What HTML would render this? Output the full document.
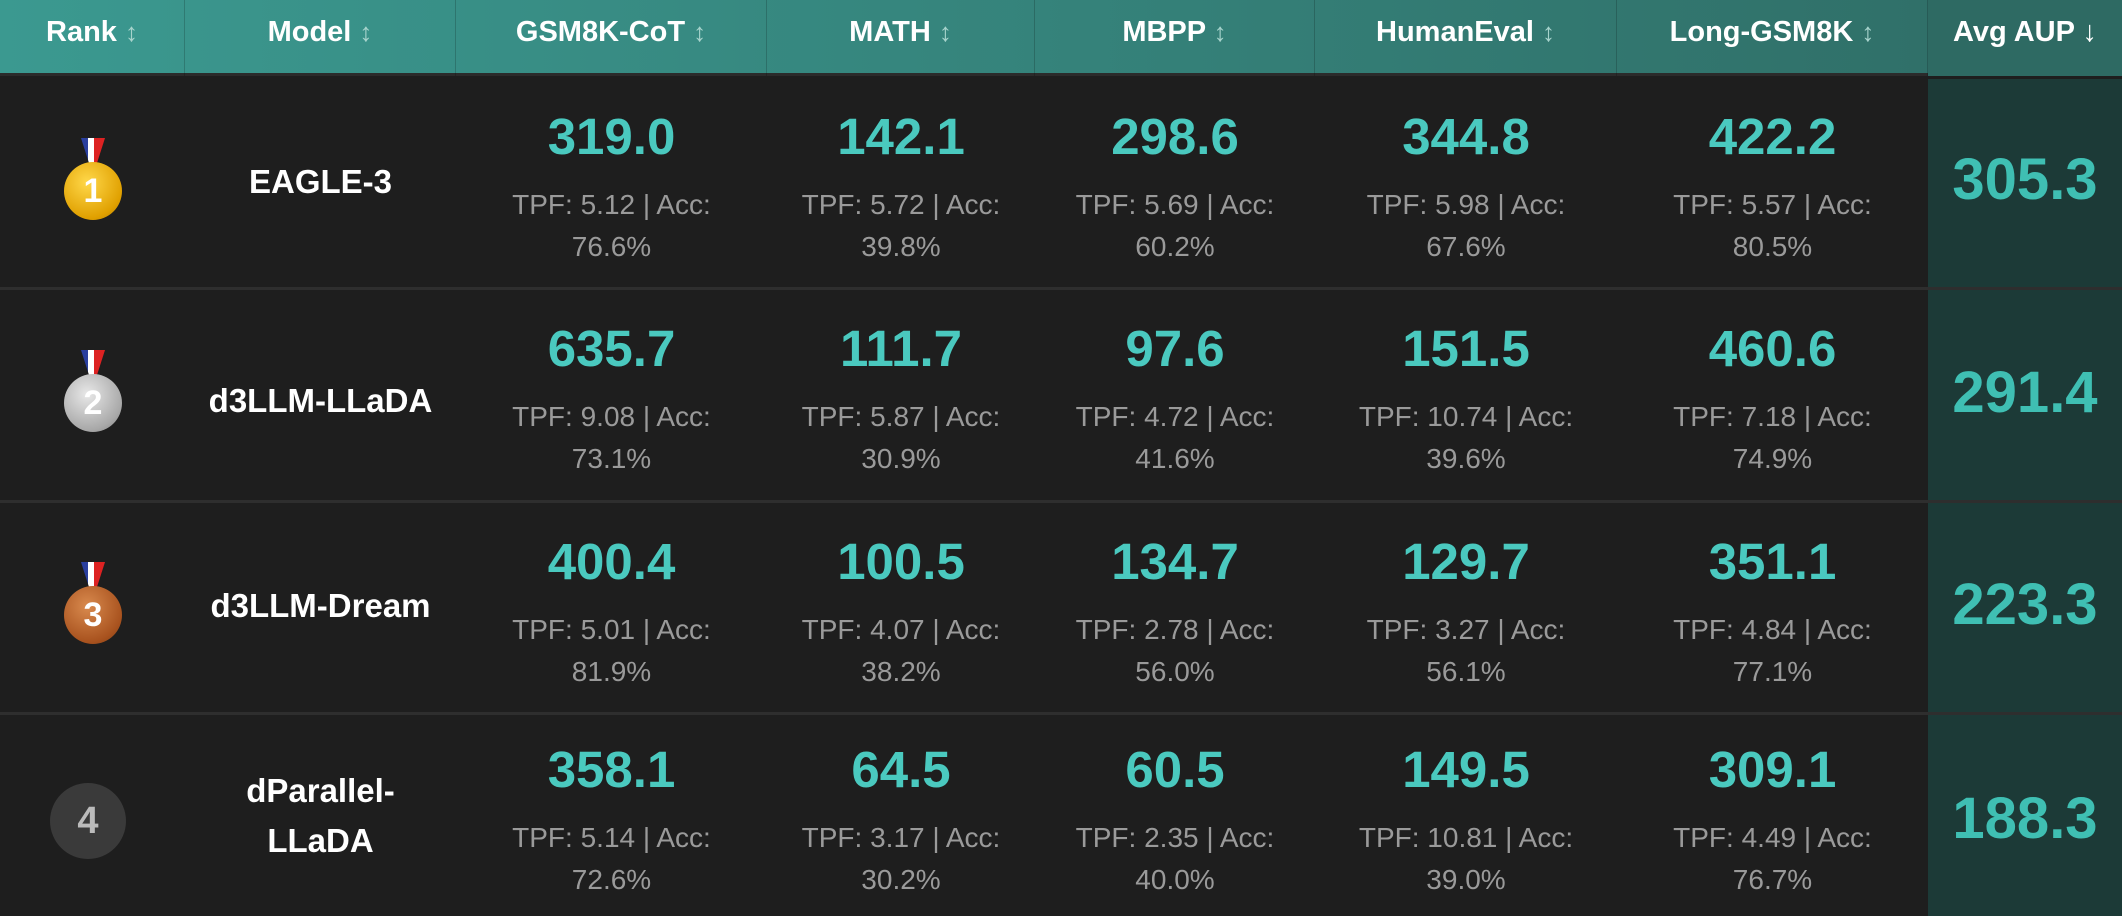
<!DOCTYPE html>
<html><head><meta charset="utf-8"><style>
*{margin:0;padding:0;box-sizing:border-box}
body{width:2122px;height:916px;background:#1e1e1e;font-family:"Liberation Sans",sans-serif;overflow:hidden;position:relative}
.hdr{position:absolute;left:0;top:0;width:2122px;height:76px;background:linear-gradient(90deg,#3b9990,#2f6c65);border-bottom:3px solid #2b2b2b}
.h{position:absolute;top:0;height:76px;line-height:64px;text-align:center;color:#fff;font-weight:bold;font-size:29px;border-right:1px solid rgba(0,0,0,0.18)}
.h span{color:#a7d3cc;font-weight:normal;font-size:26px}
.avgbg{position:absolute;left:1928px;top:79px;width:194px;height:837px;background:#1c3a37}
.avghdr{position:absolute;left:1928px;top:0;width:194px;height:76px;background:#2e6a63}
.line{position:absolute;left:0;width:2122px;height:3px;background:#2e2e2e}
.c{position:absolute;text-align:center}
.num{font-size:51px;font-weight:bold;color:#4ac9bf}
.sub{font-size:28px;color:#9a9a9a;line-height:42px}
.model{position:absolute;left:185px;width:271px;text-align:center;color:#fff;font-weight:bold;font-size:33px;line-height:50px}
.avg{position:absolute;left:1928px;width:194px;text-align:center;font-size:58px;font-weight:bold;color:#3fbfb3}
.medal{position:absolute;left:64px;width:58px;height:80px}
.rib{position:absolute;left:17px;top:0;width:24px;height:30px;background:linear-gradient(90deg,#2a3f9e 0 30%,#fff 30% 55%,#d22 55% 100%);clip-path:polygon(0 0,100% 0,60% 100%,40% 100%)}
.disk{position:absolute;left:0;top:24px;width:58px;height:58px;border-radius:50%;color:#fff;font-weight:bold;font-size:34px;line-height:58px;text-align:center}
</style></head><body>
<div class="hdr"></div><div class="avghdr"></div>
<div class="h" style="left:0;width:185px">Rank <span>↕</span></div>
<div class="h" style="left:185px;width:271px">Model <span>↕</span></div>
<div class="h" style="left:456px;width:311px">GSM8K-CoT <span>↕</span></div>
<div class="h" style="left:767px;width:268px">MATH <span>↕</span></div>
<div class="h" style="left:1035px;width:280px">MBPP <span>↕</span></div>
<div class="h" style="left:1315px;width:302px">HumanEval <span>↕</span></div>
<div class="h" style="left:1617px;width:311px">Long-GSM8K <span>↕</span></div>
<div class="h" style="left:1928px;width:194px;border:none">Avg AUP ↓</div>
<div class="avgbg"></div>
<div class="line" style="top:287px"></div>
<div class="line" style="top:500px"></div>
<div class="line" style="top:712px"></div>

<div class="medal" style="top:138px"><div class="rib"></div><div class="disk" style="background:radial-gradient(circle at 40% 35%,#ffd84a,#e0a000 70%,#b07800)">1</div></div>
<div class="model" style="top:157px">EAGLE-3</div>
<div class="avg" style="top:146px">305.3</div>

<div class="medal" style="top:350px"><div class="rib"></div><div class="disk" style="background:radial-gradient(circle at 40% 35%,#e8e8e8,#a8a8a8 70%,#7a7a7a)">2</div></div>
<div class="model" style="top:376px">d3LLM-LLaDA</div>
<div class="avg" style="top:359px">291.4</div>

<div class="medal" style="top:562px"><div class="rib"></div><div class="disk" style="background:radial-gradient(circle at 40% 35%,#d98a4e,#a8521e 70%,#7a3a14)">3</div></div>
<div class="model" style="top:581px">d3LLM-Dream</div>
<div class="avg" style="top:571px">223.3</div>

<div class="disk" style="position:absolute;left:50px;top:783px;width:76px;height:76px;background:#3a3a3a;color:#bbb;line-height:76px;font-size:38px">4</div>
<div class="model" style="top:766px">dParallel-<br>LLaDA</div>
<div class="avg" style="top:785px">188.3</div>

<div id="cells"></div>
<script>
var cols=[[456,311],[767,268],[1035,280],[1315,302],[1617,311]];
var tops=[79,291,504,715];
var d=[
[["319.0","5.12","76.6%"],["142.1","5.72","39.8%"],["298.6","5.69","60.2%"],["344.8","5.98","67.6%"],["422.2","5.57","80.5%"]],
[["635.7","9.08","73.1%"],["111.7","5.87","30.9%"],["97.6","4.72","41.6%"],["151.5","10.74","39.6%"],["460.6","7.18","74.9%"]],
[["400.4","5.01","81.9%"],["100.5","4.07","38.2%"],["134.7","2.78","56.0%"],["129.7","3.27","56.1%"],["351.1","4.84","77.1%"]],
[["358.1","5.14","72.6%"],["64.5","3.17","30.2%"],["60.5","2.35","40.0%"],["149.5","10.81","39.0%"],["309.1","4.49","76.7%"]]];
var h="";
for(var r=0;r<4;r++)for(var c=0;c<5;c++){var x=cols[c],v=d[r][c],t=tops[r]-(r==3?3:0);
h+='<div class="c num" style="left:'+x[0]+'px;width:'+x[1]+'px;top:'+(t+28)+'px">'+v[0]+'</div>';
h+='<div class="c sub" style="left:'+x[0]+'px;width:'+x[1]+'px;top:'+(t+105)+'px">TPF: '+v[1]+' | Acc:<br>'+v[2]+'</div>';}
document.getElementById("cells").innerHTML=h;
</script>
</body></html>
